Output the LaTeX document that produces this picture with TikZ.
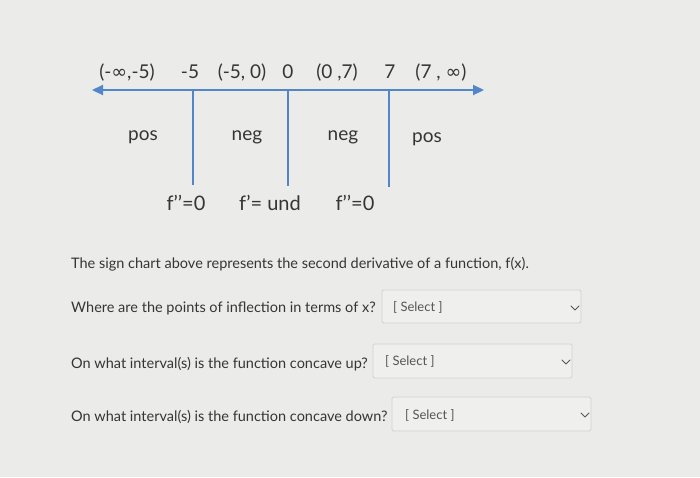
\documentclass[tikz,border=0pt]{standalone}
\usepackage{fontspec}
\setmainfont{Lato}
\newfontfamily\symf{DejaVu Sans}
\usetikzlibrary{arrows.meta}
\definecolor{bgc}{HTML}{EBEBEA}
\definecolor{linec}{HTML}{5286C8}
\definecolor{txt}{HTML}{353535}
\definecolor{boxb}{HTML}{D2D2D2}
\definecolor{boxf}{HTML}{EFEFEE}
\definecolor{selc}{HTML}{555555}
\newcommand{\inft}{{\symf\fontsize{19}{19}\selectfont ∞}}
\tikzset{
  toplab/.style={font=\fontsize{19}{19}\selectfont, text=txt, inner sep=0pt, anchor=base},
  signlab/.style={font=\fontsize{19}{19}\selectfont, text=txt, inner sep=0pt, anchor=base},
  botlab/.style={font=\fontsize{20}{20}\selectfont, text=txt, inner sep=0pt, anchor=base},
  qtext/.style={font=\fontsize{14.5}{14.5}\selectfont, text=txt, inner sep=0pt, anchor=base west},
  seltext/.style={font=\fontsize{13}{13}\selectfont, text=selc, inner sep=0pt, anchor=base west},
  selbox/.style={draw=boxb, fill=boxf, line width=0.8pt, rounded corners=1.5pt},
  tick/.style={draw=linec, line width=1.5pt},
  chev/.style={draw=selc, line width=1pt, line cap=round, line join=round}
}
\begin{document}
\begin{tikzpicture}[x=1pt,y=-1pt]
\fill[bgc] (0,0) rectangle (700,477);
\useasboundingbox (0,0) rectangle (700,477);
% number line
\coordinate (L) at (92,90);
\coordinate (R) at (484,90);
\draw[linec, line width=2.2pt, {Triangle[length=11pt,width=10pt]}-{Triangle[length=11pt,width=10pt]}] (L) -- (R);
\coordinate (t1a) at (193,90); \coordinate (t1b) at (193,185);
\coordinate (t2a) at (288,90); \coordinate (t2b) at (288,186);
\coordinate (t3a) at (389,90); \coordinate (t3b) at (389,187);
\draw[tick] (t1a) -- (t1b);
\draw[tick] (t2a) -- (t2b);
\draw[tick] (t3a) -- (t3b);
% top labels
\node[toplab] (i1) at (127,78) {(-\inft,-5)};
\node[toplab] (p1) at (190,78) {-5};
\node[toplab] (i2) at (242,78) {(-5, 0)};
\node[toplab] (p2) at (288,78) {0};
\node[toplab] (i3) at (337,78) {(0 ,7)};
\node[toplab] (p3) at (390,78) {7};
\node[toplab] (i4) at (441,78) {(7 , \inft)};
% sign labels
\node[signlab] (s1) at (143,140) {pos};
\node[signlab] (s2) at (247,140) {neg};
\node[signlab] (s3) at (343,140) {neg};
\node[signlab] (s4) at (427,142) {pos};
% bottom labels
\node[botlab] (b1) at (186,210) {f’’=0};
\node[botlab] (b2) at (270,210) {f’= und};
\node[botlab] (b3) at (355,210) {f’’=0};
% questions
\node[qtext] (q0) at (71,268) {The sign chart above represents the second derivative of a function, f(x).};
\node[qtext] (q1) at (71,312) {Where are the points of inflection in terms of x?};
\node[qtext] (q2) at (71,368) {On what interval(s) is the function concave up?};
\node[qtext] (q3) at (71,421) {On what interval(s) is the function concave down?};
% select boxes
\draw[selbox] (382,290) rectangle (581,323);
\node[seltext] (sel1) at (393,311) {[ Select ]};
\draw[chev] (571,306) -- (575,310) -- (579,306);
\draw[selbox] (373,344) rectangle (572,378);
\node[seltext] (sel2) at (385,365) {[ Select ]};
\draw[chev] (562,360) -- (566,364) -- (570,360);
\draw[selbox] (392,397) rectangle (591,431);
\node[seltext] (sel3) at (405,419) {[ Select ]};
\draw[chev] (581,413) -- (585,417) -- (589,413);
\end{tikzpicture}
\end{document}
